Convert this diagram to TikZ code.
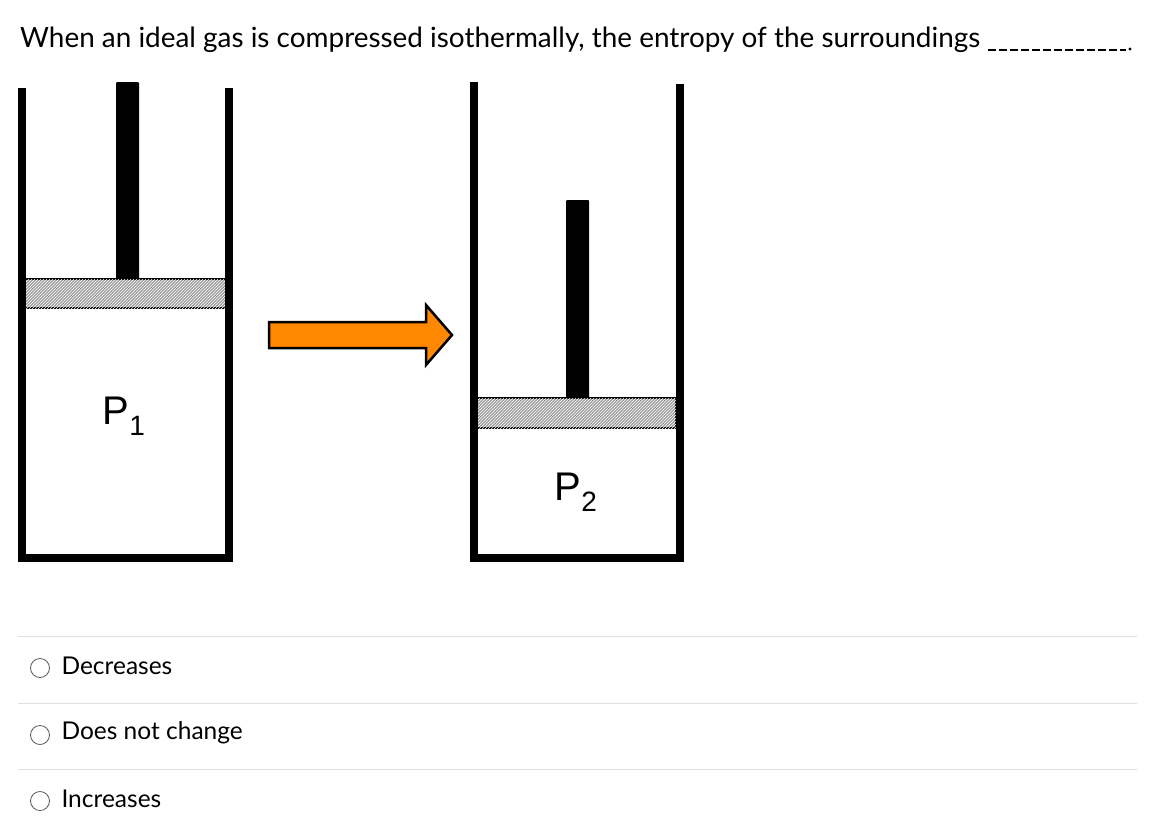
\documentclass[tikz,border=0pt]{standalone}
\usepackage{fontspec}
\setmainfont{Lato}
\newfontfamily\arialf{Liberation Sans}
\usetikzlibrary{patterns}
\begin{document}
\begin{tikzpicture}[x=1pt,y=-1pt,
  wall/.style={line width=8pt},
  plate/.style={draw=black,line width=1.5pt,fill=gray!75,postaction={pattern=north east lines,pattern color=white}},
  lbl/.style={font=\arialf\fontsize{40}{40}\selectfont},
  opt/.style={anchor=west,font=\fontsize{24.5}{28}\selectfont},
  radio/.style={draw=gray!70!black,line width=0.8pt,circle,minimum size=19pt,inner sep=0pt},
  sep/.style={draw=gray!25,line width=0.8pt}]
\useasboundingbox (0,0) rectangle (1166,839);
\fill[white] (0,0) rectangle (1166,839);
\node[anchor=west,font=\fontsize{27.9}{32}\selectfont,inner sep=0pt] (q) at (20,40) {When an ideal gas is compressed isothermally, the entropy of the surroundings};
\coordinate (d1) at (988,50);
\coordinate (d2) at (1126,50);
\draw[dash pattern=on 8pt off 3pt,line width=1.2pt] (d1) -- (d2);
\node[circle,fill=black,inner sep=1.2pt] (dot) at (1130,49) {};
% left cylinder
\fill[black,rounded corners=1pt] (116,82) rectangle (139,279);
\draw[plate] (25,279) rectangle (226,308);
\draw[wall] (22,88) -- (22,562) (229,88) -- (229,562) (18,558) -- (233,558);
\node[lbl] (p1) at (124,416) {P\textsubscript{1}};
% right cylinder
\fill[black,rounded corners=1pt] (566,200) rectangle (589,398);
\draw[plate] (477,398) rectangle (676,428);
\draw[wall] (474,82) -- (474,562) (680,84) -- (680,562) (470,558) -- (684,558);
\node[lbl] (p2) at (576,492) {P\textsubscript{2}};
% arrow
\draw[line width=2.5pt,fill=orange!90!red!85!yellow,line join=miter] (269,322) -- (426,322) -- (426,305) -- (452,335) -- (426,365) -- (426,348) -- (269,348) -- cycle;
% options
\draw[sep] (18,636) -- (1137,636) (18,703) -- (1137,703) (18,769) -- (1137,769);
\node[radio] (r1) at (40,668) {};
\node[radio] (r2) at (40,735) {};
\node[radio] (r3) at (40,801) {};
\node[opt] (o1) at (58,666) {Decreases};
\node[opt] (o2) at (58,733) {Does not change};
\node[opt] (o3) at (58,799) {Increases};
\end{tikzpicture}
\end{document}
